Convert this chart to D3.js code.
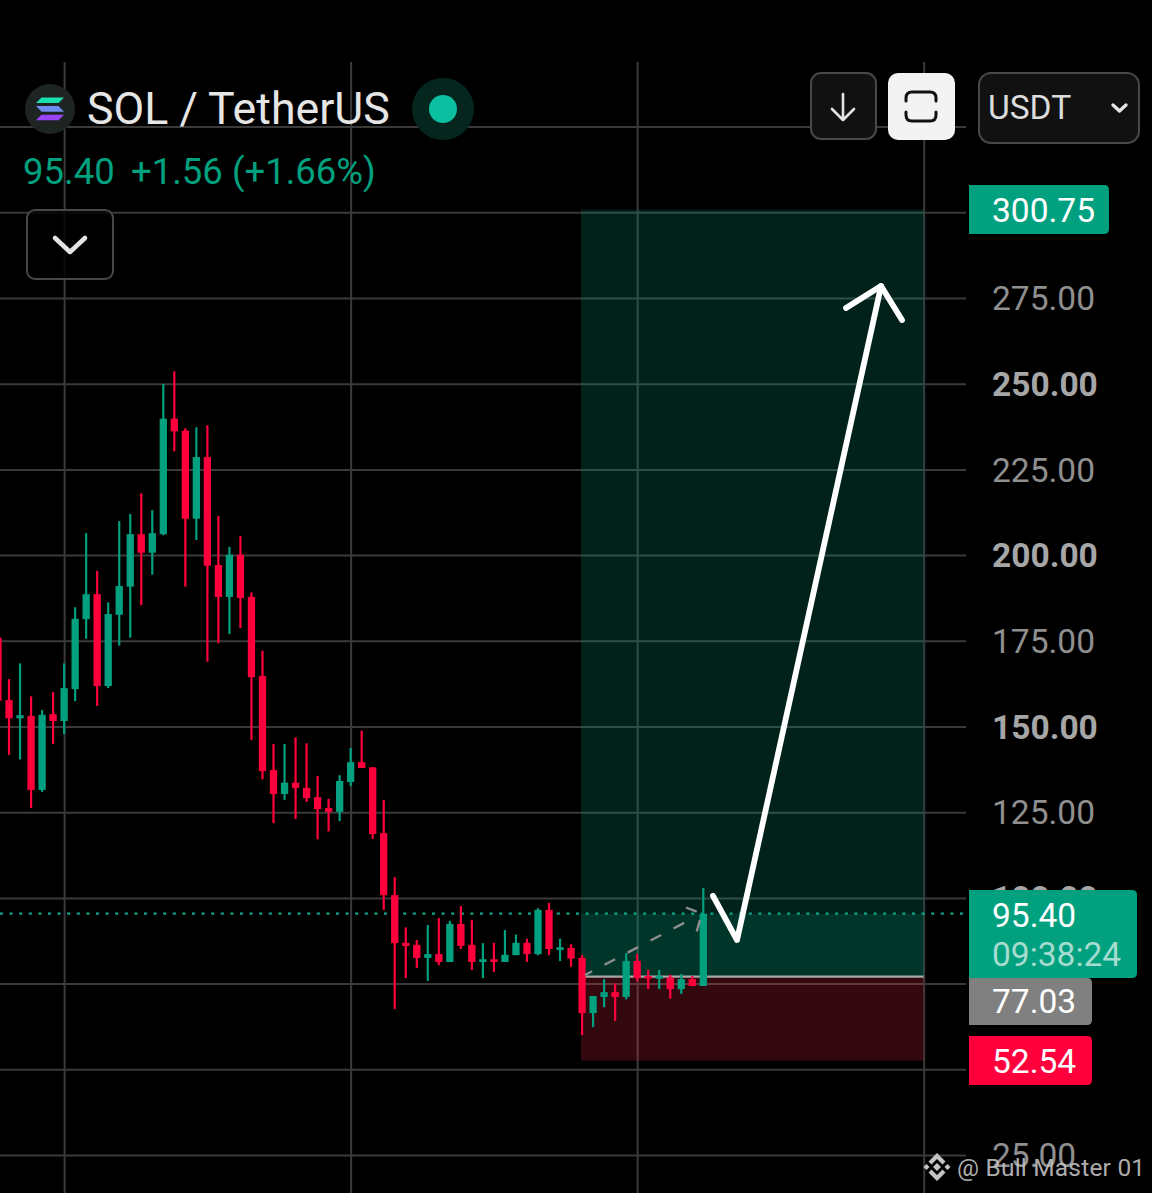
<!DOCTYPE html>
<html>
<head>
<meta charset="utf-8">
<script src="https://cdn.jsdelivr.net/npm/d3@7"></script>
<style>
  html, body { margin: 0; padding: 0; background: #000; }
  svg { display: block; font-family: Roboto, sans-serif; }
</style>
</head>
<body>
<div id="vis"></div>
<script>
// Constants for the frame dimensions
const FRAME_WIDTH = 1152;
const FRAME_HEIGHT = 1193;

// Colors
const GREEN = "#01a17f";
const RED = "#ff003c";
const STOP_RED = "#ff2d4c";
const GRID = "#3a3a3a";

// Candles, oldest first. The first one is cut off by the left edge
const OPENS = [175.9,157.7,152.4,153.1,131.5,153.6,151.6,160.9,181.3,188.6,161.8,182.6,190.8,206.1,200.7,206.1,239.8,236.3,210.6,228.6,197.1,187.8,200.1,187.8,164.7,137.3,130.3,133.6,132.1,129.4,126.2,125.1,133.8,139.6,138.1,118.9,100.8,86.9,86.3,82.5,83.6,81.3,92.4,86.3,81.3,82.1,81.3,83.3,86.9,83.6,96.5,84.8,85.4,82.5,66.4,71.1,72.5,71.1,81.6,77.2,76.4,76.8,73.4,76.3,74.3];
const HIGHS = [175.9,163.8,168.4,158.8,154.8,160,168.4,184.8,206.4,195.4,186.2,209.9,212,218,213.1,249.9,253.6,237,237.3,237.9,211.4,202.4,205.6,189.1,172.1,144.9,144.9,146.8,145.1,135.6,128.9,135.8,143.7,148.8,138.1,128.6,106.1,91.4,87.7,92.1,94.1,93.3,97.6,93.6,86.8,86.9,90.6,89.3,88.1,97,98.5,88.1,86.5,83.3,71.4,76.3,75,83.9,83.7,79,79,77.6,77.8,77.2,102.9];
const LOWS = [157.5,141.7,140.4,126.2,130.9,144.9,147.8,157.4,175.6,156,161.2,173.6,175.9,185.4,194.3,205.8,230.3,190.8,204.4,168.9,174.3,177,178.7,146.1,134.6,121.8,128.6,123,128,117.1,119.4,122.4,132.6,137.9,117.2,96.5,67.6,76.6,79.6,75.8,80.4,81.3,85.1,79,76.6,78.4,81.3,83.3,81.3,83.3,83.3,81.6,79.9,60,62.3,68.1,64.1,70.4,75.7,73.4,73.4,70.6,72,74.3,74.3];
const CLOSES = [157.5,152.4,153.3,131.5,153.4,151.6,161.2,181.4,188.6,161.8,182.8,191,206.1,200.7,206.4,239.8,236.1,210.6,228.6,196.9,187.8,200.1,187.5,164.4,137,130.3,133.6,132.1,129.1,125.9,125.1,134.1,139.6,137.9,118.6,100.8,86.8,86,82.5,83.6,81.3,92.4,86,81.3,82.1,81.3,83.4,86.9,83.6,96.5,85.1,85.6,82.3,66.4,71.4,72.5,71.1,81.6,76.6,76.5,77.2,73.4,76.3,74.3,95.4];

// Axis ticks
const PRICE_TICKS = [25,50,75,100,125,150,175,200,225,250,275,300,325];
const BOLD_TICKS = [50,100,150,200,250,300];
const TIME_TICKS = [6,32,58,84];

// Trade levels and price labels
const LAST_PRICE = 95.40;
const TARGET_PRICE = 300.75;
const ENTRY_PRICE = 77.03;
const STOP_PRICE = 52.54;
const ZONE_BARS = [52.9,84];

// Drawings as [bar, price]
const DASH_PATH = [[53.27,77.5],[62.43,93]];
const DASH_HEAD_A = [[62.43,97.2],[63.4,96]];
const DASH_HEAD_B = [[63.4,90.2],[63.7,93.5]];
const ARROW_PATH = [[64.88,100.6],[67.06,87.7],[80.13,278.5]];
const ARROW_HEAD = [[76.95,272.1],[80.13,278.5],[82.03,268.6]];

const X_SCALE = d3.scaleLinear().domain([0, 64]).range([-2, 703.3]);
const Y_SCALE = d3.scaleLinear().domain([25, 325]).range([1155, 126.6]);

const FRAME = d3.select("#vis")
                .append("svg")
                  .attr("width", FRAME_WIDTH)
                  .attr("height", FRAME_HEIGHT);

FRAME.append("rect").attr("width", FRAME_WIDTH).attr("height", FRAME_HEIGHT).attr("fill", "#000");

// vertical grid, from the time axis
const xAxis = FRAME.append("g")
      .attr("transform", "translate(0,62)")
      .call(d3.axisBottom(X_SCALE).tickValues(TIME_TICKS).tickSize(1131).tickFormat(""));
xAxis.select(".domain").remove();
xAxis.selectAll("line").attr("stroke", GRID).attr("stroke-width", 2);

// horizontal grid and price labels, from the price axis
const yAxis = FRAME.append("g")
      .call(d3.axisRight(Y_SCALE).tickValues(PRICE_TICKS).tickSize(966).tickPadding(26)
              .tickFormat((d) => d.toFixed(2)));
yAxis.select(".domain").remove();
yAxis.selectAll("line").attr("stroke", GRID).attr("stroke-width", 2);
yAxis.selectAll("text")
      .attr("dy", "0.35em")
      .attr("font-family", "Roboto, sans-serif")
      .attr("font-size", 33.5)
      .attr("font-weight", (d) => BOLD_TICKS.includes(d) ? 700 : 400)
      .attr("fill", (d) => BOLD_TICKS.includes(d) ? "#a6a6a6" : "#8f8f8f");

// profit and loss zones
const zoneX = X_SCALE(ZONE_BARS[0]);
const zoneW = X_SCALE(ZONE_BARS[1]) - zoneX;
function zone(top, bottom, color, opacity) {
  FRAME.append("rect")
       .attr("x", zoneX)
       .attr("y", Y_SCALE(top))
       .attr("width", zoneW)
       .attr("height", Y_SCALE(bottom) - Y_SCALE(top))
       .attr("fill", color)
       .attr("opacity", opacity);
}
zone(TARGET_PRICE, LAST_PRICE, GREEN, 0.21);
zone(LAST_PRICE, ENTRY_PRICE, GREEN, 0.33);
zone(ENTRY_PRICE, STOP_PRICE, STOP_RED, 0.2);

// last price dotted line
FRAME.append("line")
     .attr("x1", 0).attr("x2", 966)
     .attr("y1", Y_SCALE(LAST_PRICE)).attr("y2", Y_SCALE(LAST_PRICE))
     .attr("stroke", "#0aa88a")
     .attr("stroke-width", 2.4)
     .attr("stroke-dasharray", "3 6.6");

// entry line
FRAME.append("line")
     .attr("x1", zoneX).attr("x2", zoneX + zoneW)
     .attr("y1", Y_SCALE(ENTRY_PRICE)).attr("y2", Y_SCALE(ENTRY_PRICE))
     .attr("stroke", "#a8a8a8")
     .attr("stroke-width", 2.3);

// candles
const candles = FRAME.selectAll(".candle")
    .data(OPENS)
    .enter()
    .append("g")
      .attr("class", "candle")
      .attr("fill", (d, i) => CLOSES[i] >= d ? GREEN : RED);

candles.append("rect")
       .attr("x", (d, i) => X_SCALE(i) - 1.1)
       .attr("y", (d, i) => Y_SCALE(HIGHS[i]))
       .attr("width", 2.2)
       .attr("height", (d, i) => Y_SCALE(LOWS[i]) - Y_SCALE(HIGHS[i]));

candles.append("rect")
       .attr("x", (d, i) => X_SCALE(i) - 3.65)
       .attr("y", (d, i) => Y_SCALE(Math.max(d, CLOSES[i])))
       .attr("width", 7.3)
       .attr("height", (d, i) => Math.max(2.5, Math.abs(Y_SCALE(d) - Y_SCALE(CLOSES[i]))));

// drawings
const line = d3.line().x((d) => X_SCALE(d[0])).y((d) => Y_SCALE(d[1]));

[DASH_PATH, DASH_HEAD_A, DASH_HEAD_B].forEach((p, i) => {
  FRAME.append("path")
       .attr("d", line(p))
       .attr("fill", "none")
       .attr("stroke", "#8e8e8e")
       .attr("stroke-width", 2.4)
       .attr("stroke-dasharray", i == 0 ? "12 14" : "none")
       .attr("stroke-dashoffset", i == 0 ? 4 : 0);
});

[ARROW_PATH, ARROW_HEAD].forEach((p) => {
  FRAME.append("path")
       .attr("d", line(p))
       .attr("fill", "none")
       .attr("stroke", "#fff")
       .attr("stroke-width", 5.8)
       .attr("stroke-linecap", "round")
       .attr("stroke-linejoin", "round");
});

// price tags with the right corners rounded
function tag(x, y, w, h, color) {
  const r = 5;
  FRAME.append("path")
       .attr("d", `M${x},${y}H${x + w - r}Q${x + w},${y} ${x + w},${y + r}V${y + h - r}Q${x + w},${y + h} ${x + w - r},${y + h}H${x}Z`)
       .attr("fill", color);
}
function label(txt, x, y, size, color, extra) {
  const t = FRAME.append("text")
       .attr("x", x).attr("y", y)
       .attr("font-size", size)
       .attr("fill", color)
       .text(txt);
  if (extra) extra(t);
  return t;
}

tag(969, 185, 140, 49, GREEN);
label(TARGET_PRICE.toFixed(2), 992, 221.5, 33.5, "#fff");

tag(969, 890, 168, 88, GREEN);
label(LAST_PRICE.toFixed(2), 992, 927, 33.5, "#fff");
label("09:38:24", 992, 966, 33.5, "#a5dccf");

tag(969, 978, 123, 47, "#808080");
label(ENTRY_PRICE.toFixed(2), 992, 1013, 33.5, "#fff");

tag(969, 1036, 123, 49, RED);
label(STOP_PRICE.toFixed(2), 992, 1073, 33.5, "#fff");

// header
FRAME.append("circle").attr("cx", 50).attr("cy", 109).attr("r", 25).attr("fill", "#1e2422");
[[0, "#19e0b0"], [1, "#6f8cf0"], [2, "#9a45fc"]].forEach(([k, c]) => {
  const y = 97.5 + k * 8.6;
  const path = k == 1
    ? `M36,${y}H58.5L64,${y + 5.6}H41.5Z`
    : `M41.5,${y}H64L58.5,${y + 5.6}H36Z`;
  FRAME.append("path").attr("d", path).attr("fill", c);
});

label("SOL / TetherUS", 87, 124, 44.7, "#e6e6e6");
label("95.40", 23, 184, 36.5, GREEN);
label("+1.56 (+1.66%)", 131, 184, 36.5, GREEN);

FRAME.append("circle").attr("cx", 443).attr("cy", 109).attr("r", 31).attr("fill", "#04261f");
FRAME.append("circle").attr("cx", 443).attr("cy", 109).attr("r", 14).attr("fill", "#0bbfa1");

// buttons
function button(x, y, w, h, r, fill, stroke) {
  FRAME.append("rect")
       .attr("x", x).attr("y", y).attr("width", w).attr("height", h).attr("rx", r)
       .attr("fill", fill)
       .attr("stroke", stroke)
       .attr("stroke-width", stroke == "none" ? 0 : 2);
}
function icon(d, color, width) {
  FRAME.append("path")
       .attr("d", d)
       .attr("fill", "none")
       .attr("stroke", color)
       .attr("stroke-width", width)
       .attr("stroke-linecap", "round")
       .attr("stroke-linejoin", "round");
}

button(27, 210, 86, 69, 8, "rgba(0,0,0,0.8)", "#484848");
icon("M55,238L70,252L85,238", "#e4e4e4", 4.5);

button(811, 73, 65, 66, 10, "#111", "#484848");
icon("M843,94V120M832,109L843,120L854,109", "#e4e4e4", 2.6);

button(888, 73, 67, 67, 10, "#f3f3f3", "none");
icon("M906,101V98Q906,92 912,92H930Q936,92 936,98V101M906,112V115Q906,121 912,121H930Q936,121 936,115V112", "#111", 3);

button(979, 73, 160, 70, 12, "#111", "#484848");
label("USDT", 988, 119, 33.5, "#dcdcdc");
icon("M1113,105L1119.5,111L1126,105", "#e4e4e4", 3.4);

// watermark
const LOGO = FRAME.append("g").attr("fill", "#c4c4c4").attr("transform", "translate(937,1167)");
LOGO.append("path").attr("d", "M-4,0L0,-4L4,0L0,4Z");
LOGO.append("path").attr("d", "M-13.5,0L-10.5,-3L-7.5,0L-10.5,3Z");
LOGO.append("path").attr("d", "M13.5,0L10.5,-3L7.5,0L10.5,3Z");
LOGO.append("path").attr("d", "M-8.5,-5.5L0,-14L8.5,-5.5L5.5,-2.5L0,-8L-5.5,-2.5Z");
LOGO.append("path").attr("d", "M-8.5,5.5L0,14L8.5,5.5L5.5,2.5L0,8L-5.5,2.5Z");

label("@ Bull Master 01", 957, 1176, 24.5, "#c4c4c4", (t) => t
     .attr("font-family", "Roboto, sans-serif")
     .attr("letter-spacing", 0.2)
     .attr("fill-opacity", 0.9));
</script>
</body>
</html>
